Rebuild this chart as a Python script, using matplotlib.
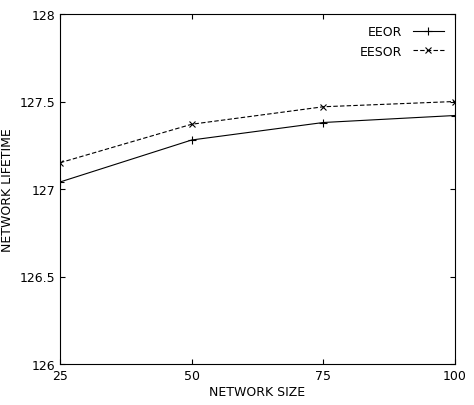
import matplotlib
matplotlib.use("Agg")
import matplotlib.pyplot as plt

sizes = [25, 50, 75, 100]
eeor = [127.04, 127.28, 127.38, 127.42]
eesor = [127.15, 127.37, 127.47, 127.50]

fig = plt.figure(figsize=(4.74, 4.06), dpi=100)
ax = fig.add_axes([60/474, 41/406, 395/474, 350/406])
ax.plot(sizes, eeor, color='black', lw=0.8, marker='+', ms=6, mew=0.8, label='EEOR')
ax.plot(sizes, eesor, color='black', lw=0.8, ls=(0, (4, 2)), marker='x', ms=5, mew=0.8, label='EESOR')
ax.set_xlim(25, 100)
ax.set_ylim(126, 128)
ax.set_xticks(sizes)
ax.set_yticks([126, 126.5, 127, 127.5, 128])
ax.set_yticklabels(['126', '126.5', '127', '127.5', '128'])
ax.tick_params(direction='in', top=True, right=True, labelsize=9)
ax.set_xlabel('NETWORK SIZE', fontsize=9, labelpad=2)
ax.set_ylabel('NETWORK LIFETIME', fontsize=9)
ax.legend(loc='upper right', frameon=False, fontsize=9, handlelength=2.5, markerfirst=False)
fig.savefig('out.png', dpi=100)
